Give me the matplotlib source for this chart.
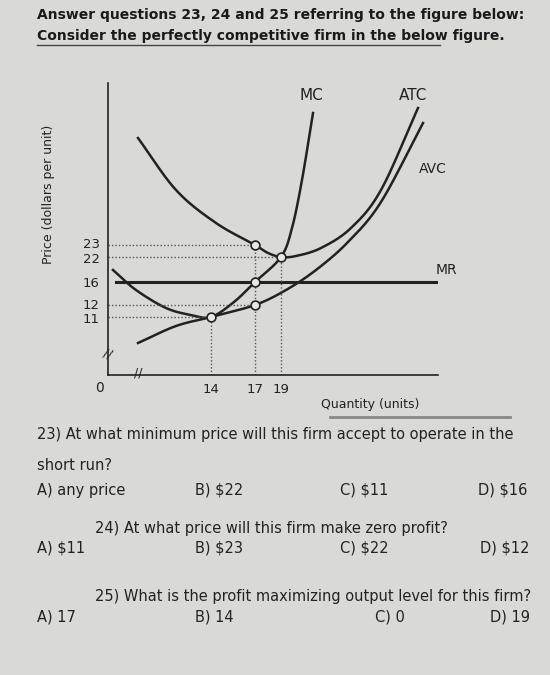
import numpy as np
import matplotlib
matplotlib.use("Agg")
import matplotlib.pyplot as plt

# chart values (drawing coordinates)
price_labels = ["23", "22", "16", "12", "11"]
price_pos = [127, 112, 88, 66, 52]
qty_labels = ["14", "17", "19"]
qty_pos = [95, 139, 165]
atc_x = [22, 60, 100, 139, 152, 165, 180, 205, 235, 265, 302]
atc_y = [232, 180, 147, 125, 117, 113, 114, 122, 142, 180, 262]
avc_x = [22, 60, 95, 139, 170, 200, 232, 265, 307]
avc_y = [27, 44, 53, 65, 80, 100, 128, 168, 247]
mc_x = [-3, 20, 50, 75, 95, 118, 139, 165, 176, 186, 197]
mc_y = [100, 80, 62, 55, 53, 68, 88, 113, 142, 190, 257]
mr_x = [0, 330]
mr_y = [88, 88]
pts_x = [139, 165, 139, 139, 95]
pts_y = [125, 113, 88, 65, 53]

def smooth(xs, ys, n=30):
    P = np.column_stack([xs, ys]).astype(float)
    P = np.vstack([2*P[0]-P[1], P, 2*P[-1]-P[-2]])
    out = []
    t = np.linspace(0, 1, n)[:, None]
    for i in range(1, len(P)-2):
        p0, p1, p2, p3 = P[i-1], P[i], P[i+1], P[i+2]
        seg = 0.5*((2*p1) + (-p0+p2)*t + (2*p0-5*p1+4*p2-p3)*t**2 + (-p0+3*p1-3*p2+p3)*t**3)
        out.append(seg)
    S = np.vstack(out)
    return S[:, 0], S[:, 1]

bg = "#d9d9d6"
ink = "#222222"
fig = plt.figure(figsize=(5.5, 6.75), dpi=100, facecolor=bg)
ax = fig.add_axes([108/550, 300/675, 330/550, 292/675])
ax.set_facecolor(bg)
ax.set_xlim(-8, 322)
ax.set_ylim(-5, 287)
for s in ["top", "right"]:
    ax.spines[s].set_visible(False)
for s in ["left", "bottom"]:
    ax.spines[s].set_color(ink); ax.spines[s].set_linewidth(1.2)
ax.set_xticks(qty_pos, qty_labels)
ax.set_yticks(price_pos, price_labels)
ax.tick_params(length=0, labelsize=9.5, colors=ink, pad=6)

for cx, cy in [(atc_x, atc_y), (avc_x, avc_y), (mc_x, mc_y)]:
    sx, sy = smooth(cx, cy)
    ax.plot(sx, sy, color=ink, lw=1.8)
ax.plot(mr_x, mr_y, color=ink, lw=2.2)

for y, xe in zip(pts_y, pts_x):
    if y != 88:
        ax.plot([-8, xe], [y, y], color="#555555", lw=1, ls=(0, (1, 1.5)))
for x, y in [(95, 53), (139, 125), (165, 113)]:
    ax.plot([x, x], [-5, y], color="#555555", lw=1, ls=(0, (1, 1.5)))
ax.scatter(pts_x, pts_y, s=40, facecolor="#e8e8e6", edgecolor=ink, lw=1.2, zorder=5)

ax.text(195, 270, "MC", fontsize=11, color=ink, ha="center")
ax.text(297, 270, "ATC", fontsize=11, color=ink, ha="center")
ax.text(317, 197, "AVC", fontsize=10, color=ink, ha="center")
ax.text(330, 96, "MR", fontsize=10, color=ink, ha="center")
ax.text(-8, 12, "//", fontsize=9, color=ink, ha="center", rotation=-20)
ax.text(22, -6, "//", fontsize=9, color=ink, ha="center")
ax.set_ylabel("Price (dollars per unit)", fontsize=9, color=ink)
ax.yaxis.set_label_coords(-0.16, 0.62)

fig.text(100/550, 1-392/675, "0", fontsize=10, color=ink, ha="center")
fig.text(370/550, 1-408/675, "Quantity (units)", fontsize=9, color=ink, ha="center")
fig.add_artist(plt.Line2D([330/550, 510/550], [1-417/675]*2, color="#888888", lw=2))

kw = dict(fontsize=10, color="#1a1a1a", fontweight="bold", va="center")
fig.text(37/550, 1-15/675, "Answer questions 23, 24 and 25 referring to the figure below:", **kw)
fig.text(37/550, 1-36/675, "Consider the perfectly competitive firm in the below figure.", **kw)
fig.add_artist(plt.Line2D([37/550, 440/550], [1-45/675]*2, color="#444444", lw=1))
kw2 = dict(fontsize=10.5, color="#222222", va="center")
fig.text(37/550, 1-434/675, "23) At what minimum price will this firm accept to operate in the", **kw2)
fig.text(37/550, 1-465/675, "short run?", **kw2)
for x, t in [(37, "A) any price"), (195, "B) $22"), (340, "C) $11"), (478, "D) $16")]:
    fig.text(x/550, 1-490/675, t, **kw2)
fig.text(95/550, 1-528/675, "24) At what price will this firm make zero profit?", **kw2)
for x, t in [(37, "A) $11"), (195, "B) $23"), (340, "C) $22"), (480, "D) $12")]:
    fig.text(x/550, 1-548/675, t, **kw2)
fig.text(95/550, 1-596/675, "25) What is the profit maximizing output level for this firm?", **kw2)
for x, t in [(37, "A) 17"), (195, "B) 14"), (375, "C) 0"), (490, "D) 19")]:
    fig.text(x/550, 1-617/675, t, **kw2)
fig.savefig("out.png", dpi=100, facecolor=bg)
